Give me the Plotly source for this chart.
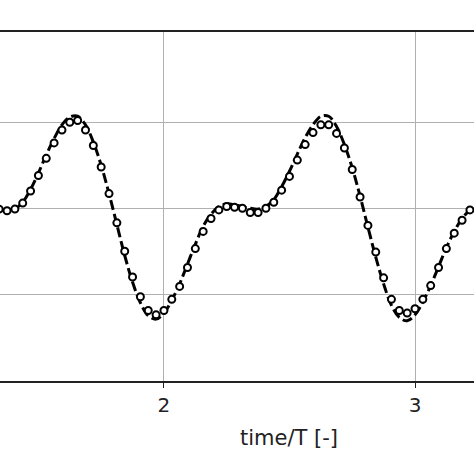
import plotly.graph_objects as go

# sample times (time/T)
t = [1.34375, 1.375, 1.40625, 1.4375, 1.46875, 1.5, 1.53125, 1.5625, 1.59375, 1.625,
     1.65625, 1.6875, 1.71875, 1.75, 1.78125, 1.8125, 1.84375, 1.875, 1.90625, 1.9375,
     1.96875, 2.0, 2.03125, 2.0625, 2.09375, 2.125, 2.15625, 2.1875, 2.21875, 2.25,
     2.28125, 2.3125, 2.34375, 2.375, 2.40625, 2.4375, 2.46875, 2.5, 2.53125, 2.5625,
     2.59375, 2.625, 2.65625, 2.6875, 2.71875, 2.75, 2.78125, 2.8125, 2.84375, 2.875,
     2.90625, 2.9375, 2.96875, 3.0, 3.03125, 3.0625, 3.09375, 3.125, 3.15625, 3.1875,
     3.21875]

# measured (open circles)
measured = [-0.01, -0.03, -0.01, 0.06, 0.20, 0.38, 0.58, 0.76, 0.91, 1.00,
            1.02, 0.91, 0.73, 0.48, 0.17, -0.17, -0.50, -0.80, -1.03, -1.19,
            -1.24, -1.19, -1.06, -0.91, -0.69, -0.47, -0.27, -0.12, -0.02, 0.02,
            0.01, 0.00, -0.05, -0.05, 0.00, 0.07, 0.21, 0.37, 0.56, 0.74,
            0.88, 0.97, 0.97, 0.87, 0.70, 0.45, 0.13, -0.20, -0.51, -0.81,
            -1.06, -1.19, -1.22, -1.17, -1.06, -0.90, -0.69, -0.47, -0.29, -0.14,
            -0.02]

# model (dashed line)
model = [-0.02, -0.03, -0.01, 0.07, 0.22, 0.41, 0.62, 0.81, 0.97, 1.06,
         1.07, 0.97, 0.77, 0.50, 0.17, -0.19, -0.55, -0.86, -1.10, -1.25,
         -1.29, -1.22, -1.07, -0.88, -0.65, -0.42, -0.21, -0.07, 0.02, 0.05,
         0.04, 0.02, 0.00, -0.01, 0.02, 0.10, 0.25, 0.43, 0.63, 0.82,
         0.97, 1.07, 1.07, 0.95, 0.74, 0.47, 0.14, -0.22, -0.57, -0.88,
         -1.13, -1.27, -1.31, -1.24, -1.09, -0.90, -0.68, -0.46, -0.27, -0.12,
         -0.02]

x_ticks = [2, 3]
x_tick_labels = ["2", "3"]
y_grid = [-1, 0, 1]

fig = go.Figure()
fig.add_trace(go.Scatter(
    x=t, y=model, mode="lines",
    line=dict(color="black", width=3, dash="10px,4px", shape="spline"),
    showlegend=False))
fig.add_trace(go.Scatter(
    x=t, y=measured, mode="markers",
    marker=dict(symbol="circle", size=7, color="white",
                line=dict(color="black", width=2)),
    showlegend=False))

fig.update_layout(
    width=474, height=474,
    margin=dict(l=0, r=0, t=32, b=93),
    plot_bgcolor="white", paper_bgcolor="white",
    font=dict(family="DejaVu Sans", color="#222222", size=19),
    xaxis=dict(range=[1.347, 3.235], tickvals=x_ticks, ticktext=x_tick_labels,
               showgrid=True, gridcolor="#b0b0b0", gridwidth=1.3,
               showline=True, mirror=True, linecolor="#222222", linewidth=1.5,
               ticks="outside", ticklen=5, tickwidth=1.3, tickcolor="#222222",
               zeroline=False, tickfont=dict(size=20)),
    yaxis=dict(range=[-2.01, 2.05], tickvals=y_grid, showticklabels=False,
               showgrid=True, gridcolor="#b0b0b0", gridwidth=1.3,
               showline=False, zeroline=False, ticks=""),
    annotations=[dict(text="time/T [-]", xref="paper", yref="paper",
                      x=289/474, y=-(438-381)/349, xanchor="center", yanchor="middle",
                      showarrow=False, font=dict(size=21, family="DejaVu Sans", color="#222222"))],
)

fig.write_html("out.html", config={"displayModeBar": False},
               post_script="document.body.style.margin='0';")
